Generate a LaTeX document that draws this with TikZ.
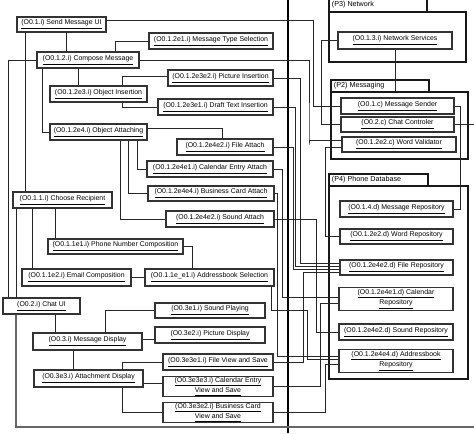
\documentclass[tikz,border=0pt]{standalone}
\usepackage{fontspec}
\setmainfont{Liberation Sans}
\usetikzlibrary{positioning,calc}

\newcommand{\ul}[1]{\underline{#1}}

\tikzset{
  obj/.style={draw=black!80,line width=0.8pt,fill=white,inner sep=1pt,align=center,
    font=\fontsize{5.2}{6.6}\selectfont},
  pkgbox/.style={draw=black!90,line width=1pt,inner sep=0pt},
  pkgtab/.style={draw=black!90,line width=1pt,inner sep=0pt},
  wire/.style={draw=black!85,line width=0.6pt},
}

\begin{document}
\begin{tikzpicture}[x=0.75pt,y=-0.75pt]
\useasboundingbox (0,0) rectangle (474,433);

% packages
\foreach \nm/\xa/\ya/\xb/\yb/\xc/\yc/\txt in {P3/329/-2/427/12/466/62/{(P3) Network},
    P2/331/80/429/92/468/159/{(P2) Messaging},
    P4/329/174/428/186/468/379/{(P4) Phone Database}} {
  \node[pkgtab,minimum width={(\xb-\xa)*0.75pt},minimum height={(\yb-\ya)*0.75pt},
    label={[anchor=west,xshift=2.5pt,inner sep=0pt,font=\fontsize{5.4}{6}\selectfont]west:\txt}]
    (\nm tab) at ({(\xa+\xb)/2},{(\ya+\yb)/2}) {};
  \node[pkgbox,minimum width={(\xc-\xa)*0.75pt},minimum height={(\yc-\yb)*0.75pt}]
    (\nm box) at ({(\xa+\xc)/2},{(\yb+\yc)/2}) {};
}

% objects
\foreach \nm/\xa/\ya/\xb/\yb/\txt in {
    SendUI/17/17/106/32/{\ul{(O0.1.i) Send Message UI}},
    MsgType/149/33/273/49/{\ul{(O0.1.2e1.i) Message Type Selection}},
    Compose/37/52/139/68/{\ul{(O0.1.2.i) Compose Message}},
    PicIns/168/70/273/86/{\ul{(O0.1.2e3e2.i) Picture Insertion}},
    ObjIns/50/86/147/102/{\ul{(O0.1.2e3.i) Object Insertion}},
    DraftText/158/99/273/115/{\ul{(O0.1.2e3e1.i) Draft Text Insertion}},
    ObjAtt/50/124/147/140/{\ul{(O0.1.2e4.i) Object Attaching}},
    FileAttach/177/139/273/155/{\ul{(O0.1.2e4e2.i) File Attach}},
    CalAttach/147/161/273/177/{\ul{(O0.1.2e4e1.i) Calendar Entry Attach}},
    BizAttach/148/186/274/201/{\ul{(O0.1.2e4e4.i) Business Card Attach}},
    SoundAttach/166/211/274/227/{\ul{(O0.1.2e4e2.i) Sound Attach}},
    ChooseRecip/13/192/112/208/{\ul{(O0.1.1.i) Choose Recipient}},
    PhoneNum/48/239/183/254/{\ul{(O0.1.1e1.i) Phone Number Composition}},
    EmailComp/22/269/131/286/{\ul{(O0.1.1e2.i) Email Composition}},
    AddrSel/145/269/274/286/{\ul{(O0.1.1e\_e1.i) Addressbook Selection}},
    ChatUI/3/298/80/314/{\ul{(O0.2.i) Chat UI}},
    SoundPlay/155/303/265/318/{\ul{(O0.3e1.i) Sound Playing}},
    PicDisplay/155/327/265/343/{\ul{(O0.3e2.i) Picture Display}},
    MsgDisplay/33/333/142/350/{\ul{(O0.3.i) Message Display}},
    FileView/163/354/273/370/{\ul{(O0.3e3e1.i) File View and Save}},
    AttDisplay/34/370/143/387/{\ul{(O0.3e3.i) Attachment Display}},
    CalView/163/378/273/395/{\ul{(O0.3e3e3.i) Calendar Entry}\\\ul{View and Save}},
    BizView/163/404/273/421/{\ul{(O0.3e3e2.i) Business Card}\\\ul{View and Save}},
    NetServ/338/32/452/49/{\ul{(O0.1.3.i) Network Services}},
    MsgSender/341/98/454/114/{\ul{(O0.1.c) Message Sender}},
    ChatCtrl/341/117/454/132/{\ul{(O0.2.c) Chat Controler}},
    WordVal/342/137/456/152/{\ul{(O0.1.2e2.c) Word Validator}},
    MsgRepo/340/201/453/217/{\ul{(O0.1.4.d) Message Repository}},
    WordRepo/340/229/453/244/{\ul{(O0.1.2e2.d) Word Repository}},
    FileRepo/340/260/453/275/{\ul{(O0.1.2e4e2.d) File Repository}},
    CalRepo/339/291/453/307/{\ul{(O0.1.2e4e1.d) Calendar}\\\ul{Repository}},
    SoundRepo/339/324/453/340/{\ul{(O0.1.2e4e2.d) Sound Repository}},
    AddrRepo/339/353/453/369/{\ul{(O0.1.2e4e4.d) Addressbook}\\\ul{Repository}}} {
  \node[obj,minimum width={(\xb-\xa)*0.75pt},minimum height={(\yb-\ya)*0.75pt}]
    (\nm) at ({(\xa+\xb)/2},{(\ya+\yb)/2}) {\txt};
}

% entry points on the repositories
\coordinate (fileA) at ([yshift=3.4pt]FileRepo.west);
\coordinate (fileB) at ([yshift=1.1pt]FileRepo.west);
\coordinate (fileC) at ([yshift=-1.1pt]FileRepo.west);
\coordinate (fileD) at ([yshift=-3.4pt]FileRepo.west);
\coordinate (calA) at ([yshift=1.5pt]CalRepo.west);
\coordinate (calB) at ([yshift=-3pt]CalRepo.west);
\coordinate (addrA) at ([yshift=3.8pt]AddrRepo.west);
\coordinate (addrB) at ([yshift=1.5pt]AddrRepo.west);
\coordinate (addrC) at ([yshift=-2.3pt]AddrRepo.west);
\coordinate (edgeR) at (474,0 |- ChatCtrl.east);

% divider and bottom line
\draw[black,line width=0.9pt] (288,0) -- (288,433);
\draw[black!60,line width=1.2pt] (16,0 |- ChatUI.south) |- (474,427);

% send message side
\draw[wire] (66,0 |- SendUI.south) -- (66,0 |- Compose.north);
\draw[wire] (25,0 |- SendUI.south) -- (25,0 |- ChooseRecip.north);
\draw[wire] ([yshift=3pt]SendUI.east) -| (313,0 |- MsgSender.west) -- (MsgSender.west);
\draw[wire] (115,0 |- Compose.north) |- (MsgType.west);
\draw[wire] (78,0 |- Compose.south) -- (78,0 |- ObjIns.north);
\draw[wire] (42,0 |- Compose.south) |- (ObjAtt.west);
\draw[wire] (Compose.east) -| (309,0 |- WordVal.west) |- ([yshift=3pt]WordVal.west);
\draw[wire] (Compose.west) -| (8,0 |- ChatUI.north);
\draw[wire] (122,0 |- ObjIns.north) |- ([yshift=1.5pt]PicIns.west);
\draw[wire] (122,0 |- ObjIns.south) |- (DraftText.west);
\draw[wire] ([yshift=3pt]ObjAtt.east) -| (222,0 |- FileAttach.north);
\draw[wire] (137,0 |- ObjAtt.south) |- (CalAttach.west);
\draw[wire] (128,0 |- ObjAtt.south) |- (BizAttach.west);
\draw[wire] (120,0 |- ObjAtt.south) |- (SoundAttach.west);

% recipient side
\draw[wire] (55,0 |- ChooseRecip.south) -- (55,0 |- PhoneNum.north);
\draw[wire] (32,0 |- ChooseRecip.south) -- (32,0 |- EmailComp.north);
\draw[wire] (16,0 |- ChooseRecip.south) -- (16,0 |- ChatUI.north);
\draw[wire] (PhoneNum.east) -| (192,0 |- AddrSel.north);
\draw[wire] (EmailComp.east) -- (AddrSel.west);

% chat side
\draw[wire] (55,0 |- ChatUI.south) -- (55,0 |- MsgDisplay.north);
\draw[wire] (105,0 |- MsgDisplay.north) |- (SoundPlay.west);
\draw[wire] (MsgDisplay.east |- 0,339) -- (PicDisplay.west |- 0,339);
\draw[wire] (73,0 |- MsgDisplay.south) -- (73,0 |- AttDisplay.north);
\draw[wire] (122,0 |- AttDisplay.north) |- (FileView.west);
\draw[wire] (AttDisplay.east |- 0,383) -- (CalView.west |- 0,383);
\draw[wire] (122,0 |- AttDisplay.south) |- (BizView.west);

% into the repositories
\draw[wire] (PicIns.east) -| (300,0 |- fileA) -- (fileA);
\draw[wire] (DraftText.east) -| (295,0 |- fileB) -- (fileB);
\draw[wire] (FileAttach.east) -| (293,0 |- fileC) -- (fileC);
\draw[wire] (FileView.east) -| (303,0 |- fileD) -- (fileD);
\draw[wire] (CalAttach.east) -| (282,0 |- calA) -- (calA);
\draw[wire] (CalView.east) -| (320,0 |- calB) -- (calB);
\draw[wire] (BizAttach.east) -| (277,0 |- addrA) -- (addrA);
\draw[wire] (271,0 |- AddrSel.south) |- (307,310) |- (addrB);
\draw[wire] (BizView.east) -| (325,0 |- addrC) -- (addrC);
\draw[wire] (SoundAttach.east) -| (316,0 |- SoundRepo.west) -- (SoundRepo.west);
\draw[wire] ([yshift=-2.5pt]WordVal.west) -| (325,0 |- WordRepo.west) -- (WordRepo.west);

% messaging and network
\draw[wire] (NetServ.west) -| (321,0 |- ChatCtrl.west) -- (ChatCtrl.west);
\draw[wire] (NetServ.south) -- (NetServ.south |- P2box.north);
\draw[wire] (MsgSender.east) -| (460,0 |- MsgRepo.east) -- (MsgRepo.east);
\draw[wire] (ChatCtrl.east) -- (edgeR);
\end{tikzpicture}
\end{document}
